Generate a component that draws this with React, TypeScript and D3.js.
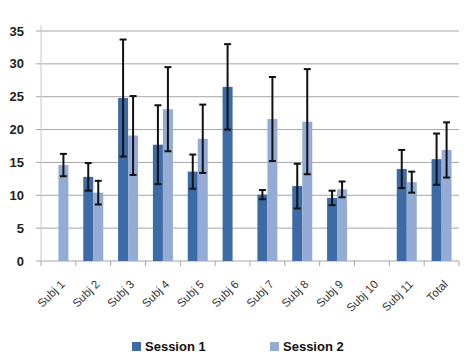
import * as d3 from "d3";

const W = 474;
const H = 358;
const MARGIN = { top: 31, right: 15, bottom: 97, left: 41 };

const categories = [
  "Subj 1", "Subj 2", "Subj 3", "Subj 4", "Subj 5", "Subj 6",
  "Subj 7", "Subj 8", "Subj 9", "Subj 10", "Subj 11", "Total",
];
const seriesNames = ["Session 1", "Session 2"];
const seriesColors = ["#3d6ba6", "#94abd5"];

// null = no bar
const session1 = [null, 12.8, 24.8, 17.7, 13.6, 26.5, 10.1, 11.4, 9.6, null, 14.0, 15.5];
const session1Err = [null, 2.1, 8.9, 6.0, 2.6, 6.5, 0.7, 3.4, 1.1, null, 2.9, 3.9];
const session2 = [14.6, 10.4, 19.1, 23.1, 18.6, null, 21.6, 21.2, 10.9, null, 12.0, 16.9];
const session2Err = [1.7, 1.8, 6.0, 6.4, 5.2, null, 6.4, 8.0, 1.2, null, 1.6, 4.2];

const yTicks = [0, 5, 10, 15, 20, 25, 30, 35];

export default function App() {
  const boundsW = W - MARGIN.left - MARGIN.right;
  const boundsH = H - MARGIN.top - MARGIN.bottom;

  const x = d3.scaleBand().domain(categories).range([0, boundsW]);
  const inner = d3.scaleBand().domain(seriesNames).range([0, 20]);
  const y = d3.scaleLinear().domain([0, 35]).range([boundsH, 0]);

  const values = [session1, session2];
  const errs = [session1Err, session2Err];

  // left edge of a bar
  const barX = (i: number, s: number) =>
    (x(categories[i]) ?? 0) + (x.bandwidth() - 20) / 2 + (inner(seriesNames[s]) ?? 0);

  const bars = values.flatMap((vals, s) =>
    vals.map((v, i) => {
      if (v == null) return null;
      return (
        <rect key={`b${s}-${i}`} x={barX(i, s)} y={y(v)} width={inner.bandwidth()} height={boundsH - y(v)} fill={seriesColors[s]} />
      );
    })
  );

  const errBars = values.flatMap((vals, s) =>
    vals.map((v, i) => {
      const e = errs[s][i];
      if (v == null || e == null) return null;
      const cx = barX(i, s) + inner.bandwidth() / 2;
      const y1 = y(v + e);
      const y0 = y(v - e);
      return (
        <g key={`e${s}-${i}`} stroke="#111" strokeWidth={2}>
          <line x1={cx} x2={cx} y1={y1} y2={y0} />
          <line x1={cx - 3.5} x2={cx + 3.5} y1={y1} y2={y1} />
          <line x1={cx - 3.5} x2={cx + 3.5} y1={y0} y2={y0} />
        </g>
      );
    })
  );

  return (
    <svg width={W} height={H} style={{ position: "absolute", left: 0, top: 0, background: "#fff" }}>
      <g transform={`translate(${MARGIN.left},${MARGIN.top})`}>
        {yTicks.map((t) => (
          <g key={t}>
            <line x1={-5} x2={boundsW} y1={y(t)} y2={y(t)} stroke="#a6a6a6" strokeWidth={1} />
            <text x={-17} y={y(t)} dy="0.35em" textAnchor="end" fontFamily="Liberation Sans, Arial, sans-serif" fontWeight="bold" fontSize={13} fill="#222">
              {t}
            </text>
          </g>
        ))}
        <line x1={0} x2={0} y1={-6} y2={boundsH} stroke="#c8c8c8" />
        {categories.map((c) => (
          <line key={c} x1={x(c) ?? 0} x2={x(c) ?? 0} y1={boundsH} y2={boundsH + 5} stroke="#a6a6a6" />
        ))}
        <line x1={boundsW} x2={boundsW} y1={boundsH} y2={boundsH + 5} stroke="#a6a6a6" />
        {bars}
        {errBars}
        {categories.map((c) => {
          const cx = (x(c) ?? 0) + x.bandwidth() / 2 + 7;
          const ty = boundsH + 24;
          return (
            <text key={c} x={cx} y={ty} transform={`rotate(-45,${cx},${ty})`} textAnchor="end" fontFamily="Liberation Sans, Arial, sans-serif" fontSize={11.5} fill="#333">
              {c}
            </text>
          );
        })}
      </g>
      <g transform={`translate(0,346)`}>
        {seriesNames.map((n, s) => {
          const lx = s === 0 ? 132 : 270;
          return (
            <g key={n}>
              <rect x={lx} y={-4} width={9} height={9} fill={seriesColors[s]} />
              <text x={lx + 13} y={0} dy="0.35em" fontFamily="Liberation Sans, Arial, sans-serif" fontWeight="bold" fontSize={13} fill="#111">
                {n}
              </text>
            </g>
          );
        })}
      </g>
    </svg>
  );
}
